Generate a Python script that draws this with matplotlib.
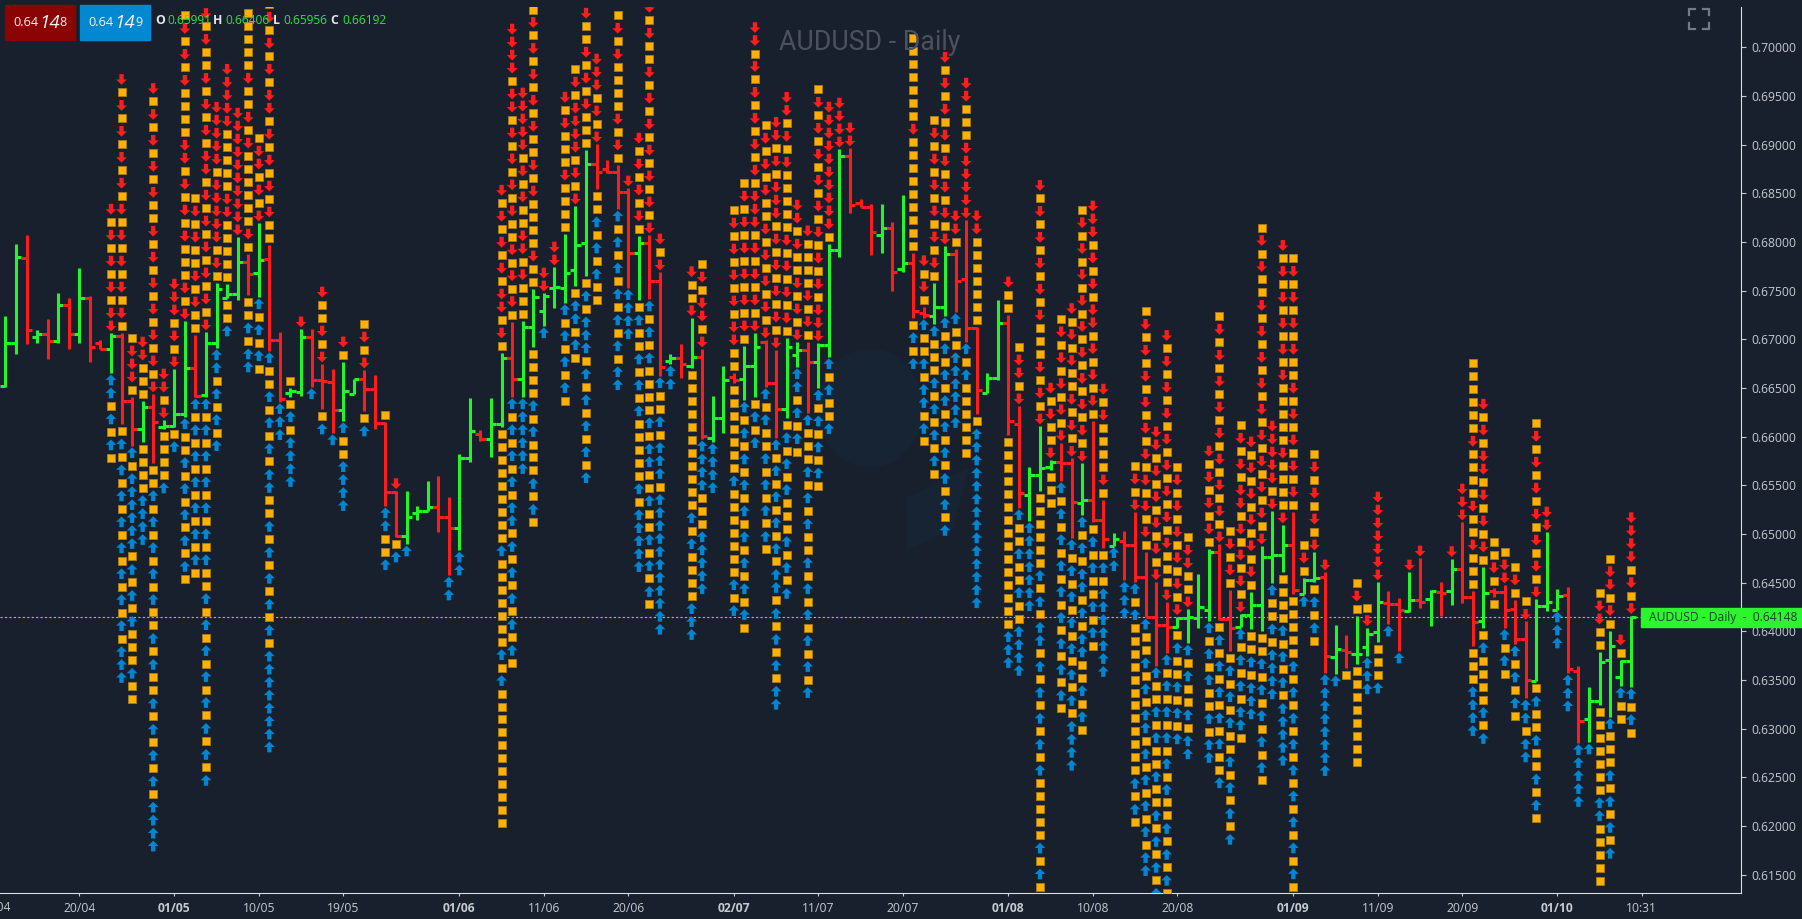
import matplotlib
matplotlib.use('Agg')
from matplotlib import pyplot as plt
from matplotlib.lines import Line2D
from matplotlib.patches import Ellipse, Polygon, Rectangle
from matplotlib.path import Path

# prices are in points (1e-5), one value per daily bar
HIGH = [67240,67980,68072,67096,67209,67479,67425,67733,67445,66994,67065,67065,66408,66367,66439,66172,66696,67189,67045,67076,
        67579,67569,68052,67877,68195,67969,67076,66500,67107,67107,66747,66696,66768,66593,66685,66634,66154,65446,65446,65291,
        65548,65600,65384,65823,66398,66069,66398,66860,67182,67192,67517,67476,67743,68082,68370,68945,69007,68842,68791,68555,
        68062,68072,67692,66850,66952,67223,66901,66418,66726,66655,66932,67065,66994,66891,67014,66973,66976,66963,67980,68955,
        68966,68442,68391,68391,68206,68483,67887,67336,67579,67959,67928,68226,67130,66658,67404,67250,66316,65692,66110,65761,
        65939,65778,65727,66165,65350,65011,65035,65227,64816,64511,64302,64151,64230,64590,64847,64898,64426,64179,64408,64877,
        65237,65093,65227,64549,64816,64610,64066,63963,64158,64039,64508,64415,64348,64610,64754,64426,64508,64748,65124,64415,
        64662,64449,64477,64323,64103,64333,65021,64438,64460,63648,63432,63789,64009,63706,64163]
LOW = [66511,66850,66952,66966,66798,66966,66901,66966,66771,66901,66655,66131,65908,65949,65733,66079,66103,66206,66408,66408,
       66914,67425,67404,67456,67438,66884,66360,66411,66421,66514,66285,66041,66165,66439,66264,66079,65291,64970,64898,65145,
       65240,65024,64580,64836,65740,65956,65795,66100,66411,66411,66925,67140,67322,67377,67551,67651,68545,68709,68339,67531,
       67404,67415,66627,66747,66603,66706,65977,65949,66038,66552,66377,66411,66514,65990,66195,66719,66244,66500,66822,67849,
       68301,68360,67867,67890,67500,67695,67223,67223,67158,67243,67284,66976,66233,66449,66583,66018,65271,65137,65446,65658,
       65548,64963,65196,65127,64860,64881,64528,64511,64148,63648,63781,64035,63881,64035,64110,64117,63802,64045,64025,64007,
       64497,64614,64381,64381,64508,63576,63563,63624,63666,63749,63891,64076,63799,64200,64245,64051,64158,64271,64292,63853,
       64039,64357,64039,63871,63316,63488,64210,64220,63573,62858,62865,63245,63126,63443,63432]
OPEN = [66524,66960,67836,67024,67055,66983,67353,67055,67425,66963,66901,67035,66367,66079,66305,66100,66105,66233,66706,66429,
        66963,67428,67471,67795,67682,67826,66994,66444,66459,67024,66583,66562,66274,66439,66593,66490,66141,65432,64980,65216,
        65240,65278,65175,65062,65781,66028,65977,66131,66809,66593,67127,67295,67523,67528,67713,67987,68801,68750,68719,68514,
        67887,67990,67600,66781,66809,66730,66819,65990,66192,66613,66593,66726,66976,66552,66285,66839,66891,66771,66942,67918,
        68884,68401,68363,68072,68144,67723,67784,67271,67243,67336,67877,67620,67117,66449,66606,67168,66131,65401,65607,65692,
        65743,65730,65324,65345,65145,64881,64932,64888,64562,64148,64066,64049,64133,64138,64220,64819,64128,64045,64169,64271,
        64764,64785,64888,64384,64528,64562,63737,63809,63763,63835,63994,64287,64277,64210,64327,64338,64405,64415,64643,64354,
        64103,64415,64405,64233,63927,63491,64263,64224,64374,63593,63096,63285,63706,63532,63696]
CLOSE = [66960,67846,67096,67055,66983,67353,67055,67425,66925,66901,67035,66367,66079,66305,66151,66105,66233,66706,66418,66963,
         67517,67471,67795,67671,67815,66994,66387,66465,67024,66583,66575,66274,66473,66593,66490,66141,65432,64980,65175,65240,
         65278,65175,65062,65778,66059,65977,66131,66812,66593,67127,67432,67449,67533,67682,67969,68801,68719,68719,68514,67887,
         67990,67600,66719,66809,66747,66819,66010,66192,66583,66583,66726,66925,66552,66285,66925,66891,66768,66942,67918,68884,
         68380,68363,68103,68144,67695,67784,67291,67250,67336,67877,67600,67117,66480,66606,67168,66165,65422,65607,65679,65743,
         65730,65333,65345,65145,64949,64949,64888,64562,64148,64066,64045,64138,64143,64251,64819,64128,64035,64169,64271,64764,
         64785,64888,64426,64528,64549,63751,63819,63792,63773,63974,64307,64277,64215,64327,64307,64415,64395,64643,64357,64097,
         64395,64405,64215,63927,63501,64263,64302,64364,63618,63082,63285,63686,63846,63696,64148]

# signal stacks per bar, read outwards from the high / low: S = square, A = arrow
UPPER = {
    10: "AASASASASA", 11: "SA"*10, 12: "SAAAS", 13: "SSSAA", 14: "ASASASASASASAS"+"SASASASASA", 15: "ASAA",
    16: "ASASAAA", 17: "ASASSSASASASAASSSSASASAS", 18: "SSASASSASAS", 19: "ASASASASASASAASASASASSASA",
    20: "SASAAAAASAAAAA", 21: "SSSSSAASSSSSAAAAA", 22: "A"*10, 23: "SASSSSSSASASSASSSSS", 24: "ASASAAS",
    25: "SSASASASASAASASASAS", 27: "S", 28: "A", 30: "ASASSA", 32: "SA", 34: "ASAS", 36: "S", 37: "A",
    47: "SASAASASASASA", 48: "SASASASSASASASASAASAAAA", 49: "SSSASAASSASASAAAAA", 50: "SSASSSSASASSASASASASAS",
    51: "AA", 52: "AA", 53: "SSSSASSSASA", 54: "ASASAAAASAS", 55: "SSSASASASSA", 56: "ASASAAA", 58: "SASASSSSASAS",
    59: "A", 60: "SASASASA", 61: "ASASASASASASASSASA", 62: "ASA", 65: "ASSA", 66: "ASAASAS", 69: "SSAASASASASAS",
    70: "SASASASASASAS", 71: "ASASASASAAASASASASASASAA", 72: "ASASASASASSASASAS", 73: "ASASASASASAAASASAA",
    74: "SASASASASSSSSASASAA", 75: "ASASASSASAA", 76: "SASASSSSA", 77: "AAASASASASASASASASAS", 78: "S"+"A"*10,
    79: "AAAA", 80: "AA", 86: "S"*9+"A"+"S"*7, 87: "SASA", 88: "SA"*6+"S", 89: "AS"*7+"A", 90: "SAA",
    91: "AAAAAASSSAA", 92: "SSSSSSSAA", 95: "SSA", 96: "ASAAS", 98: "ASASASSSASASASASASA", 99: "ASSASA",
    100: "ASASASASAS", 101: "ASASASSASASA", 102: "AS"*10, 103: "SASASASAASASASAAA", 104: "SASSSSASA", 107: "ASAS",
    108: "SA"*9+"S", 109: "ASASASASASAA", 110: "ASSSASASASASASASASASA", 111: "AS"*6, 112: "ASSAAS", 114: "SA"*4,
    115: "AS"*9, 116: "SASAS", 117: "ASASASASAASASAS", 118: "SA"*6, 119: "AS"*10+"SASAS", 120: "ASAAAAA",
    121: "ASSSSASSSSSASASASASASA", 122: "SASASASASAS"+"SASASASAS", 123: "SAS", 124: "AS"*4, 125: "A", 128: "SAS",
    129: "AS", 130: "A"*7, 133: "A", 134: "A", 137: "A", 138: "AAA", 139: "SSSASSASSSSASSSSSS", 140: "SASASASAASASA",
    141: "SASS", 142: "AAS", 143: "SAS", 144: "AS", 145: "AS"*7, 146: "AA", 151: "SSAAS", 152: "SASAAS", 153: "SA",
    154: "ASASAAAA",
}
LOWER = {
    10: "AASASAS", 11: "SA"*8+"SAAA", 12: "ASAAAAAASASASASSSASS", 13: "SSSSAAAA",
    14: "SSASASASASA"+"SSASASSASASASASAAAA", 15: "SSSSA", 16: "SA", 17: "ASSASASASASAS", 18: "ASASASASASASAS",
    19: "ASASASASASASAS"+"S"+"ASASASASASASASA", 20: "AASASASA", 21: "SSA", 23: "SSASAA", 24: "ASASAS",
    25: "ASSASASASAASSASASASASASA"+"A"*7, 26: "AAA", 27: "SASAAAA", 29: "A", 30: "SA", 31: "A", 32: "ASSAAAA",
    34: "SA", 36: "AASSA", 37: "SA", 38: "A", 42: "AA", 43: "AA",
    47: "S"*9+"A"+"S"*7+"A"+"S"+"A"+"S"*11, 48: "ASASASASAASASASASASAS", 49: "AAAAAA", 50: "SSSSASASSSASAS", 51: "A",
    53: "ASASASAS", 54: "SAASAS", 55: "SASAAASASASASASA", 56: "SSASASASS", 58: "ASASASASASASAA", 59: "AAAA",
    60: "SASSASASASSSSSASAAAAA", 61: "ASASASSSSASAASSASSASASAS", 62: "ASSASAAASAAAAAAAAAAA", 63: "AA",
    65: "S"*11+"ASA"+"SSSS"+"AAA", 66: "AAAASSSAAAAA", 67: "AAAA", 69: "SSSSSSSASSSSSSSASA", 70: "AS"*9, 71: "SASA",
    72: "ASASSASASASAS", 73: "ASASASASASAASASASASAA", 74: "SASASASSSASASA", 75: "AASASAS",
    76: "ASSSASASASSASASASASASA", 77: "ASASASAS", 78: "ASASSA", 86: "SASA", 87: "ASSASAASAS", 88: "ASSSASASASAS",
    89: "ASASASASASASASASA", 90: "ASSAAAAAA", 91: "ASASSSSSS", 92: "S"+"A"*14, 95: "S"*15+"AAA", 96: "ASSASSASSAAAA",
    97: "A"*7, 98: "SSSSSS"+"ASASAA"+"SASASASASA"+"SSSSS"+"ASAS", 99: "SSS", 100: "AS"*9, 101: "ASASASASASASASAAAA",
    102: "ASASAASASAASSASAS", 103: "SASASSASAS", 104: "SASAAAAAAA", 105: "AA", 106: "AAA", 107: "ASA"+"S"*12+"ASAS",
    108: "ASSASASAASASASASASAA", 109: "ASSASASSASSASASASA", 110: "ASASASASASASSASASAS", 111: "SASSASASA",
    112: "ASASSASAA", 114: "ASASASSASAA", 115: "SASASASASASSA", 116: "SASASASSASASASA", 117: "ASASASAAS",
    118: "SSASAAA", 119: "SSASASASASAS", 120: "ASSASAAAA", 121: "SSSSASASASAAAAA", 122: "SSSSS"+"AS"*9, 123: "A",
    124: "SASAS", 125: "A"*8, 126: "A", 127: "S", 128: "S"*8, 129: "AAA", 130: "SSSA", 131: "A", 132: "A",
    139: "SSSAAAA", 140: "SASSSSASA", 141: "S", 142: "ASAS", 143: "ASASAS", 144: "AASAA", 145: "SASSASSASAS",
    147: "AAA", 148: "AAA", 149: "AAAAA", 150: "A", 151: "SSSSSSSAASSSSS", 152: "ASSSASASASA", 153: "ASS", 154: "ASAS",
}
MARK_GAP = 72      # points between a bar's extreme and its first mark
MARK_STEP = 133.3  # points between stacked marks

LAST_PRICE = 0.64148
PRICE_TICKS = [0.615, 0.62, 0.625, 0.63, 0.635, 0.64, 0.645, 0.65, 0.655, 0.66, 0.665, 0.67, 0.675, 0.68, 0.685, 0.69, 0.695, 0.70]
DATE_POS = [7, 16, 24, 32, 43, 51, 59, 69, 77, 85, 95, 103, 111, 122, 130, 138, 147, 155]
DATE_LABELS = ['20/04', '01/05', '10/05', '19/05', '01/06', '11/06', '20/06', '02/07', '11/07', '20/07',
               '01/08', '10/08', '20/08', '01/09', '11/09', '20/09', '01/10', '10:31']
BOLD_DATES = ['01/05', '01/06', '02/07', '01/08', '01/09', '01/10']

BG = '#18202d'
GREEN = '#22f52a'
RED = '#ff1c1c'
AMBER = '#ffb000'
BLUE = '#0286d2'
GREY = '#c6cad0'
LOGO = '#172434'
W, H = 1802, 919

plt.rcParams['font.family'] = ['Open Sans', 'DejaVu Sans']


def px(x, y):
    # screen pixel -> figure fraction
    return x / W, 1 - y / H


fig = plt.figure(figsize=(W / 100, H / 100), dpi=100, facecolor=BG)
ax = fig.add_axes([0, (H - 893.3) / H, 1741.3 / W, 886.3 / H], facecolor=BG)
ax.set_xlim(-0.5115, 164.43)
ax.set_ylim(0.61310, 0.70414)

# faint logo behind the bars
fig.patches.append(Ellipse(px(870, 408), 104 / W, 118 / H, color=LOGO, transform=fig.transFigure, zorder=-5))
fig.patches.append(Polygon([px(907, 498), px(968, 468), px(952, 530), px(908, 549)], color=LOGO,
                           transform=fig.transFigure, zorder=-5))
ax.patch.set_alpha(0)

up_arrow = Path([(-0.5, 0), (0, 0.5), (0.5, 0), (0.2, 0), (0.2, -0.5), (-0.2, -0.5), (-0.2, 0), (-0.5, 0)], closed=True)
down_arrow = Path([(-0.5, 0), (0, -0.5), (0.5, 0), (0.2, 0), (0.2, 0.5), (-0.2, 0.5), (-0.2, 0), (-0.5, 0)], closed=True)

sq_x, sq_y, red_x, red_y, blue_x, blue_y = [], [], [], [], [], []
for i, pattern in UPPER.items():
    for n, kind in enumerate(pattern):
        price = (HIGH[i] + MARK_GAP + n * MARK_STEP) / 1e5
        if kind == 'S':
            sq_x.append(i)
            sq_y.append(price)
        else:
            red_x.append(i)
            red_y.append(price)
for i, pattern in LOWER.items():
    for n, kind in enumerate(pattern):
        price = (LOW[i] - MARK_GAP - n * MARK_STEP) / 1e5
        if kind == 'S':
            sq_x.append(i)
            sq_y.append(price)
        else:
            blue_x.append(i)
            blue_y.append(price)

ax.axhline(LAST_PRICE, color='#56ee5e', lw=0.8, ls=(0, (2, 2)), zorder=1)
ax.scatter(sq_x, sq_y, marker='s', s=37, color=AMBER, edgecolors='#a87a1e', linewidths=0.6, zorder=3)
ax.scatter(red_x, red_y, marker=down_arrow, s=60, color=RED, edgecolors='none', zorder=3)
ax.scatter(blue_x, blue_y, marker=up_arrow, s=60, color=BLUE, edgecolors='none', zorder=3)

# OHLC bars
for i in range(len(HIGH)):
    c = GREEN if CLOSE[i] > OPEN[i] else RED
    ax.vlines(i, LOW[i] / 1e5, HIGH[i] / 1e5, color=c, lw=2.2, zorder=4)
    ax.hlines(OPEN[i] / 1e5, i - 0.5, i, color=c, lw=2.2, zorder=4)
    ax.hlines(CLOSE[i] / 1e5, i, i + 0.5, color=c, lw=2.2, zorder=4)

for side in ['top', 'left']:
    ax.spines[side].set_visible(False)
for side in ['right', 'bottom']:
    ax.spines[side].set_color('#d8dbdf')
    ax.spines[side].set_linewidth(0.8)

ax.yaxis.tick_right()
ax.set_yticks(PRICE_TICKS)
ax.set_yticklabels(['%.5f' % p for p in PRICE_TICKS])
ax.tick_params(axis='y', colors=GREY, length=3.4, width=0.8, labelsize=8.7, pad=3.5)
ax.set_xticks(DATE_POS)
ax.set_xticklabels(DATE_LABELS)
ax.tick_params(axis='x', colors=GREY, length=2.4, width=0.8, labelsize=8.7, pad=4)
for lab in ax.get_xticklabels():
    if lab.get_text() in BOLD_DATES:
        lab.set_fontweight('bold')
# label of the tick that already scrolled off the left edge
ax.text(-1, -0.0155, '11/04', transform=ax.get_xaxis_transform(), color=GREY, fontsize=8.7, ha='center', va='center',
        clip_on=False)

x0, y0 = px(870, 43)
fig.text(x0, y0, 'AUDUSD - Daily', color='#4b525d', fontsize=19.2, family='Roboto', ha='center', va='center', zorder=2)

# bid / ask boxes
fig.add_artist(Rectangle(px(5, 40), 70 / W, 35 / H, color='#8a0404', transform=fig.transFigure))
fig.add_artist(Rectangle(px(80, 40), 70 / W, 35 / H, color='#0288d1', transform=fig.transFigure))
for x, txt, size, style in [(13, '0.64', 9.2, 'normal'), (39, '14', 13.5, 'italic'), (59, '8', 9.2, 'normal'),
                            (88, '0.64', 9.2, 'normal'), (114, '14', 13.5, 'italic'), (135, '9', 9.2, 'normal')]:
    fx, fy = px(x, 23)
    fig.text(fx, fy, txt, color='#f2f2f2', fontsize=size, style=style, va='center', zorder=6)

for x, txt in [(155, 'O'), (213, 'H'), (273, 'L'), (330, 'C')]:
    fx, fy = px(x, 20)
    fig.text(fx, fy, txt, color='#e4e6ea', fontsize=8.8, fontweight='bold', va='center', zorder=6)
for x, txt in [(167, '0.65991'), (225, '0.66406'), (283, '0.65956'), (342, '0.66192')]:
    fx, fy = px(x, 20)
    fig.text(fx, fy, txt, color='#2ee63a', fontsize=8.6, va='center', zorder=6)

# fullscreen icon
for xs, ys in [((1689, 1689, 1695), (15, 9, 9)), ((1703, 1709, 1709), (9, 9, 15)),
               ((1689, 1689, 1695), (23, 29, 29)), ((1703, 1709, 1709), (29, 29, 23))]:
    pts = [px(a, b) for a, b in zip(xs, ys)]
    fig.add_artist(Line2D([p[0] for p in pts], [p[1] for p in pts], color='#747a84', lw=1.6,
                          solid_joinstyle='miter', transform=fig.transFigure))

# last price tag
fig.add_artist(Rectangle(px(1641, 626.5), 161 / W, 18.5 / H, color='#2cf52e', transform=fig.transFigure, zorder=5))
fx, fy = px(1649, 617.5)
fig.text(fx, fy, 'AUDUSD - Daily  -  0.64148', color='#15432a', fontsize=8.7, va='center', zorder=6)

plt.savefig('out.png', dpi=100, facecolor=BG)
